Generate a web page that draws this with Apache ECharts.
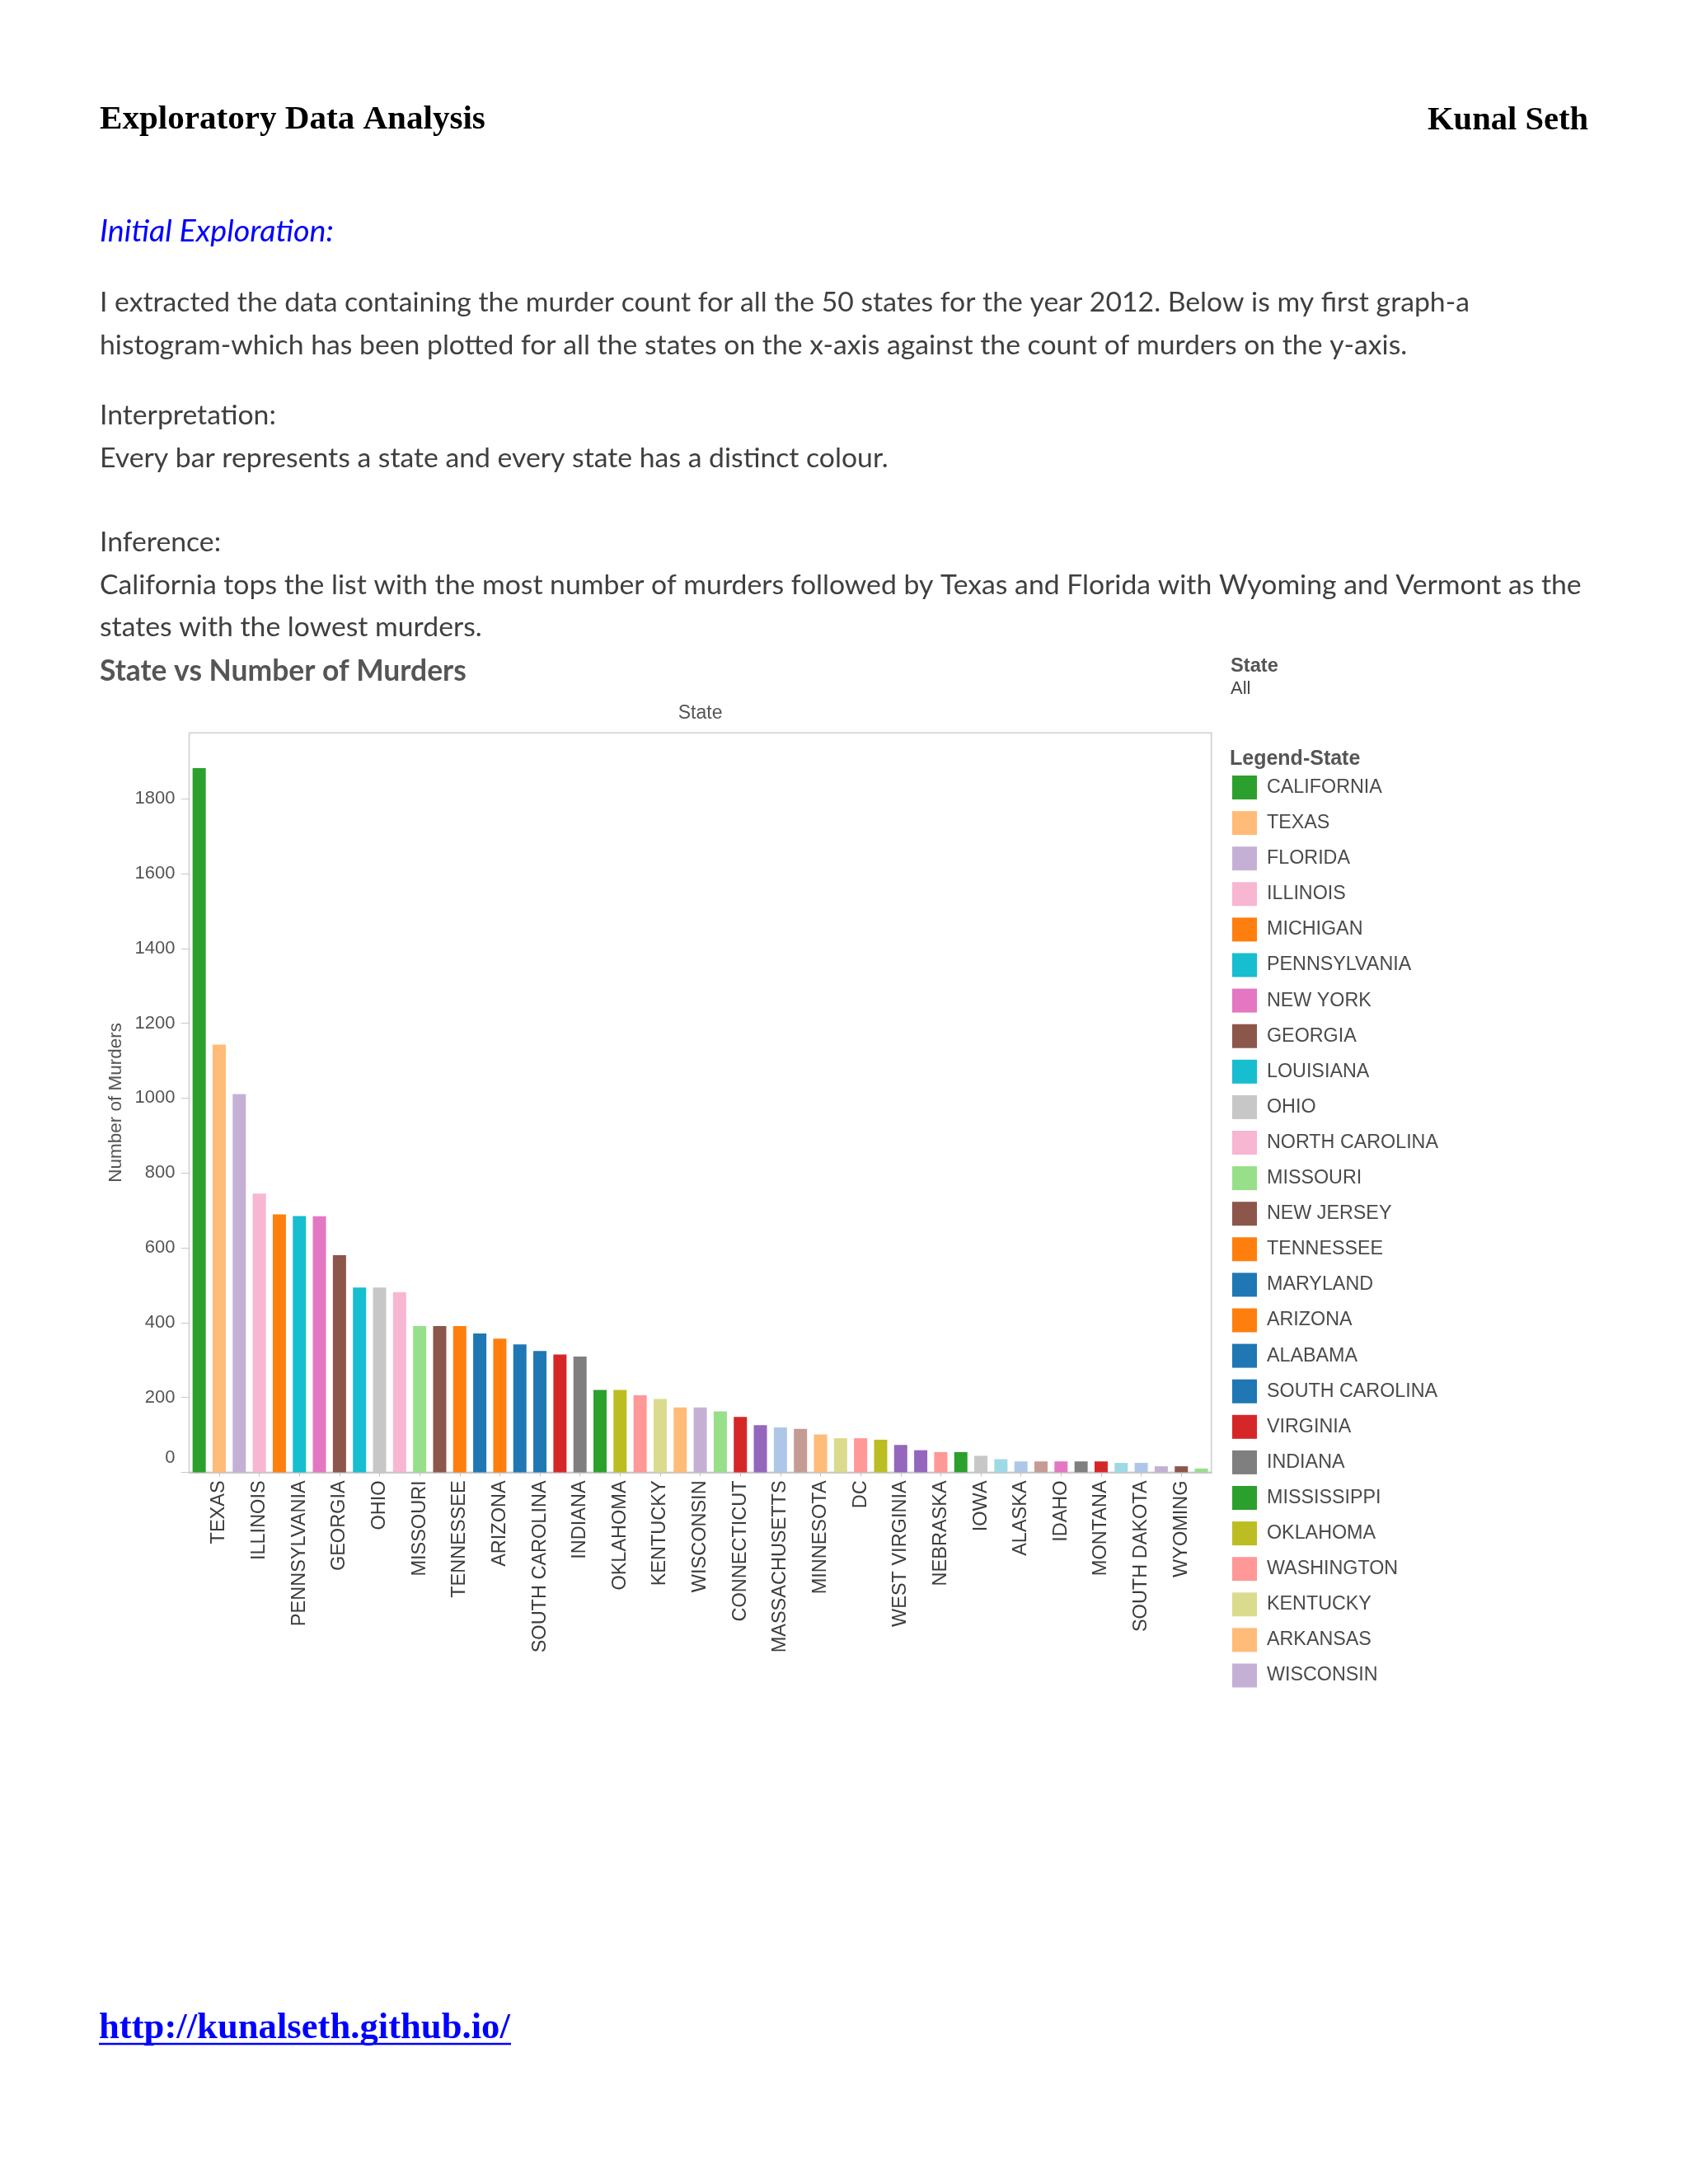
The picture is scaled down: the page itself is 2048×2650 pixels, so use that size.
<!DOCTYPE html>
<html>
<head>
<meta charset="utf-8">
<script src="https://cdn.jsdelivr.net/npm/echarts@6/dist/echarts.min.js"></script>
<style>
html,body{margin:0;padding:0;background:#ffffff;}
#chart{width:2048px;height:2650px;}
</style>
</head>
<body>
<div id="chart"></div>
<script>
// ---------- data ----------
const states = ['CALIFORNIA','TEXAS','FLORIDA','ILLINOIS','MICHIGAN','PENNSYLVANIA','NEW YORK','GEORGIA','LOUISIANA','OHIO',
  'NORTH CAROLINA','MISSOURI','NEW JERSEY','TENNESSEE','MARYLAND','ARIZONA','ALABAMA','SOUTH CAROLINA','VIRGINIA','INDIANA',
  'MISSISSIPPI','OKLAHOMA','WASHINGTON','KENTUCKY','ARKANSAS','WISCONSIN','COLORADO','CONNECTICUT','NEVADA','MASSACHUSETTS',
  'NEW MEXICO','MINNESOTA','KANSAS','DC','OREGON','WEST VIRGINIA','UTAH','NEBRASKA','DELAWARE','IOWA',
  'HAWAII','ALASKA','RHODE ISLAND','IDAHO','MAINE','MONTANA','NEW HAMPSHIRE','SOUTH DAKOTA','NORTH DAKOTA','WYOMING','VERMONT'];
const murders = [1882,1143,1011,745,689,685,684,580,494,494,
  481,391,391,391,371,357,342,324,315,309,
  220,220,206,196,173,173,163,148,126,120,
  116,101,91,91,87,73,59,54,54,44,
  35,29,29,29,29,29,25,25,16,16,10];
const barColors = ['#2ca02c','#ffbb78','#c5b0d5','#f7b6d2','#ff7f0e','#17becf','#e377c2','#8c564b','#17becf','#c7c7c7',
  '#f7b6d2','#98df8a','#8c564b','#ff7f0e','#1f77b4','#ff7f0e','#1f77b4','#1f77b4','#d62728','#7f7f7f',
  '#2ca02c','#bcbd22','#ff9896','#dbdb8d','#ffbb78','#c5b0d5','#98df8a','#d62728','#9467bd','#aec7e8',
  '#c49c94','#ffbb78','#dbdb8d','#ff9896','#bcbd22','#9467bd','#9467bd','#ff9896','#2ca02c','#c7c7c7',
  '#9edae5','#aec7e8','#c49c94','#e377c2','#7f7f7f','#d62728','#9edae5','#aec7e8','#c5b0d5','#8c564b','#98df8a'];
const legendStates = states.slice(0, 26);
const yTicks = {min: 0, max: 1976, interval: 200};

const bodyLines = [
  'I extracted the data containing the murder count for all the 50 states for the year 2012. Below is my first graph-a',
  'histogram-which has been plotted for all the states on the x-axis against the count of murders on the y-axis.'
];
const interpText = 'Every bar represents a state and every state has a distinct colour.';
const inferLines = [
  'California tops the list with the most number of murders followed by Texas and Florida with Wyoming and Vermont as the',
  'states with the lowest murders.'
];

// ---------- helpers ----------
const mctx = document.createElement('canvas').getContext('2d');
function fitSize(text, fontDecl, targetW) {
  mctx.font = fontDecl.replace('SIZE', '100px');
  return 100 * targetW / mctx.measureText(text).width;
}
function txt(text, x, baseline, size, fontDecl, fill, align) {
  return {
    type: 'text', x: x, y: baseline - 0.3 * size, silent: true,
    style: {
      text: text, fill: fill,
      font: fontDecl.replace('SIZE', size.toFixed(2) + 'px'),
      align: align || 'left', verticalAlign: 'middle'
    }
  };
}

const serifB = 'bold SIZE "Liberation Serif", "Times New Roman", serif';
const body = 'normal SIZE Lato, "Open Sans", sans-serif';
const bodyI = 'italic SIZE Lato, "Open Sans", sans-serif';
const sans = 'normal SIZE "Liberation Sans", Arial, sans-serif';
const sansB = 'bold SIZE "Liberation Sans", Arial, sans-serif';
const titleF = 'bold SIZE Lato, "Open Sans", sans-serif';

const bodySize = fitSize(bodyLines[0], body, 1662);
const textCol = '#3f3f3f';

const graphics = [
  txt('Exploratory Data Analysis', 121, 158, fitSize('Exploratory Data Analysis', serifB, 468), serifB, '#000'),
  txt('Kunal Seth', 1927, 159, fitSize('Kunal Seth', serifB, 195), serifB, '#000', 'right'),
  txt('Initial Exploration:', 121, 292, fitSize('Initial Exploration:', bodyI, 284), bodyI, '#0000ff'),
  txt(bodyLines[0], 121, 377, bodySize, body, textCol),
  txt(bodyLines[1], 121, 429, bodySize, body, textCol),
  txt('Interpretation:', 121, 514, bodySize, body, textCol),
  txt(interpText, 121, 566, bodySize, body, textCol),
  txt('Inference:', 121, 668, bodySize, body, textCol),
  txt(inferLines[0], 121, 720, bodySize, body, textCol),
  txt(inferLines[1], 121, 771, bodySize, body, textCol),
  txt('State vs Number of Murders', 121, 825, fitSize('State vs Number of Murders', titleF, 445), titleF, '#555555'),
  txt('State', 849.6, 873, 23, sans, '#555555', 'center'),
  txt('State', 1493, 816, 23.7, sansB, '#555555'),
  txt('All', 1493, 843, 22, sans, '#444444'),
  txt('Legend-State', 1492, 929, 25, sansB, '#555555'),
  txt('http://kunalseth.github.io/', 120, 2475, fitSize('http://kunalseth.github.io/', serifB, 499), serifB, '#0000ff'),
  {type: 'line', silent: true, shape: {x1: 120, y1: 2480, x2: 620, y2: 2480}, style: {stroke: '#0000ff', lineWidth: 2.5}}
];

const oddOnly = function (i) { return i % 2 === 1; };

const series = states.map(function (name, i) {
  return {
    name: name, type: 'bar', stack: 'all', barWidth: 16,
    itemStyle: {color: barColors[i]},
    data: states.map(function (_, j) { return j === i ? murders[i] : '-'; })
  };
});

const chart = echarts.init(document.getElementById('chart'), null, {renderer: 'canvas'});
chart.setOption({
  backgroundColor: '#ffffff',
  animation: false,
  grid: {left: 229.5, right: 578.3, top: 889.3, bottom: 863.6, show: true,
         backgroundColor: '#ffffff', borderColor: '#d8d8d8', borderWidth: 2},
  xAxis: {
    type: 'category', data: states,
    axisLine: {show: true, lineStyle: {color: '#c8c8c8', width: 2}},
    axisTick: {show: true, interval: oddOnly, alignWithLabel: true, length: 5, lineStyle: {color: '#c0c0c0'}},
    axisLabel: {interval: oddOnly, rotate: 90, margin: 10, fontSize: 23.5,
                fontFamily: '"Liberation Sans", Arial, sans-serif', color: '#3c3c3c'}
  },
  yAxis: {
    type: 'value', min: yTicks.min, max: yTicks.max, interval: yTicks.interval,
    name: 'Number of Murders', nameLocation: 'middle', nameRotate: 90, nameGap: 77,
    nameTextStyle: {fontSize: 22.5, fontFamily: '"Liberation Sans", Arial, sans-serif', color: '#555555'},
    splitLine: {show: false},
    axisLine: {show: false},
    axisTick: {show: true, length: 10, lineStyle: {color: '#c8c8c8'}},
    axisLabel: {
      showMaxLabel: false, margin: 17, fontSize: 22,
      fontFamily: '"Liberation Sans", Arial, sans-serif', color: '#555555',
      formatter: function (v) { return v === 0 ? '{z|0}' : String(v); },
      rich: {z: {fontSize: 22, fontFamily: '"Liberation Sans", Arial, sans-serif', color: '#555555', padding: [0, 0, 34, 0]}}
    }
  },
  legend: {
    data: legendStates, orient: 'vertical', left: 1495, top: 941, padding: 0,
    itemWidth: 30, itemHeight: 29, itemGap: 14.1, icon: 'rect', selectedMode: false,
    textStyle: {fontSize: 23.3, fontFamily: '"Liberation Sans", Arial, sans-serif', color: '#4a4a4a', padding: [0, 0, 0, 7]}
  },
  series: series,
  graphic: graphics
});
</script>
</body>
</html>
